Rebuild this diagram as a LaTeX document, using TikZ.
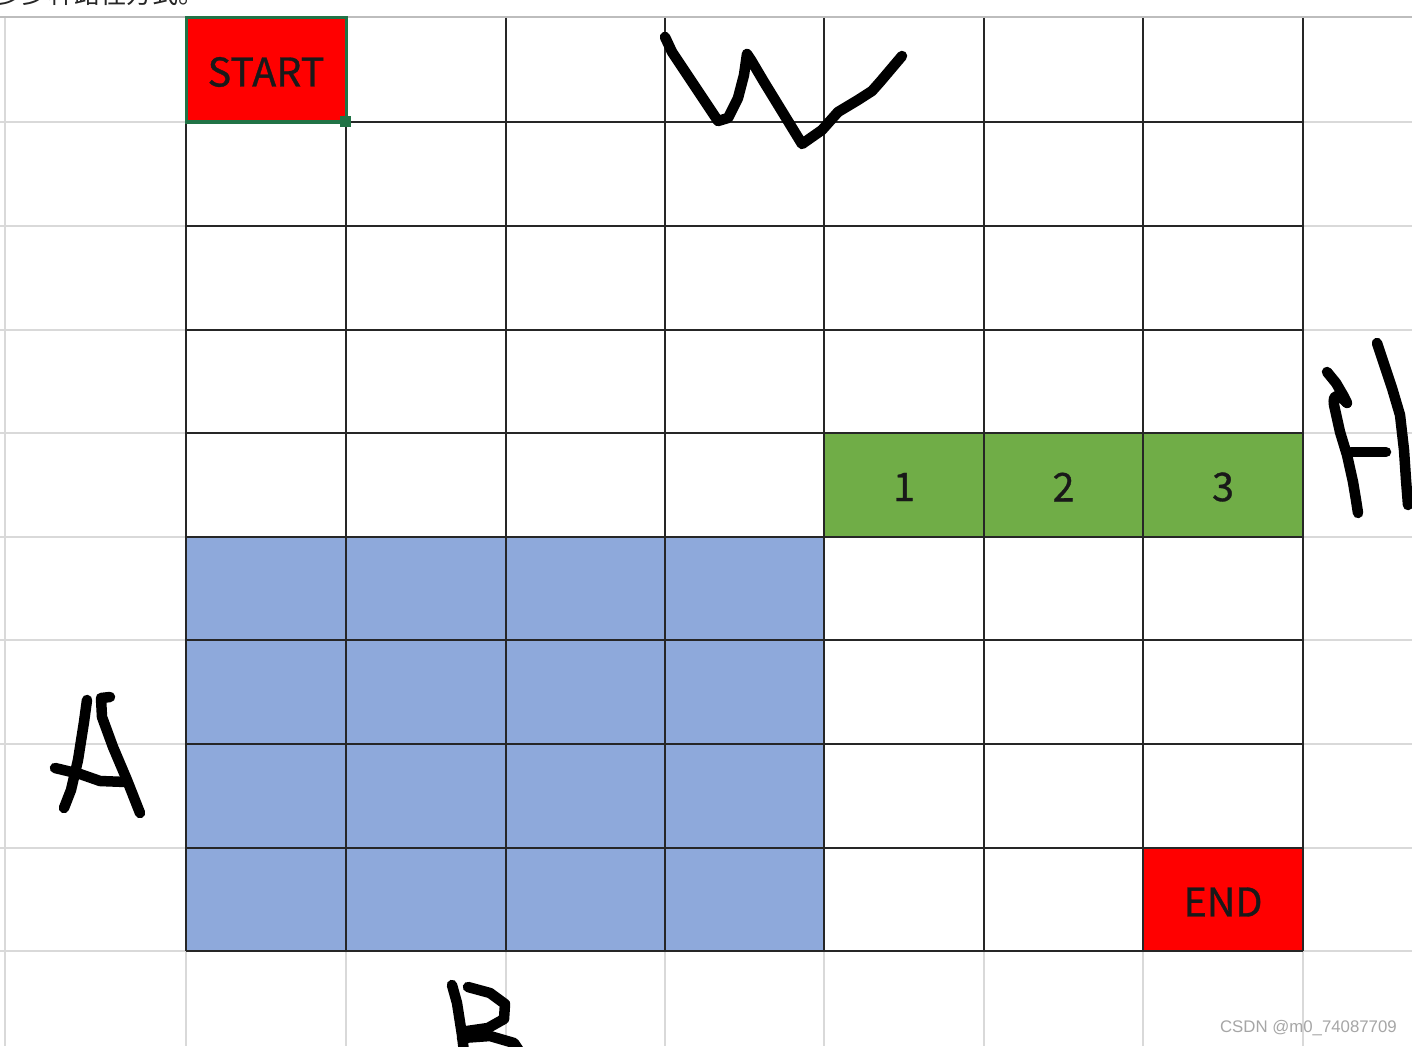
\documentclass[tikz,border=0pt]{standalone}
\usepackage{fontspec}
\setmainfont{Carlito}
\newfontfamily\cjkfont{Noto Sans CJK SC}
\newfontfamily\cellfont[FakeBold=0.8]{Noto Sans CJK SC}
\newfontfamily\wmfont{Liberation Sans}
\definecolor{cellred}{HTML}{FF0000}
\definecolor{cellblue}{HTML}{8EA9DB}
\definecolor{cellgreen}{HTML}{70AD47}
\definecolor{selgreen}{HTML}{217346}
\definecolor{faint}{HTML}{D9D9D9}
\definecolor{header}{HTML}{BDBDBD}
\tikzset{
  cell/.style={minimum width=159pt, minimum height=103.5pt, inner sep=0pt, draw=none},
  gridline/.style={line width=1.3pt, black!85},
  faintline/.style={line width=1.2pt, faint},
  ink/.style={line width=10.5pt, line cap=round, line join=round, black},
  celltext/.style={font=\cellfont\fontsize{39.5}{39.5}\selectfont, text=black!90},
}
\begin{document}
\begin{tikzpicture}[x=1pt,y=-1pt]
\useasboundingbox (0,0) rectangle (1412,1046);
\clip (0,0) rectangle (1412,1046);
\fill[white] (0,0) rectangle (1412,1046);

% cut-off caption at the very top
\node[anchor=base west, inner sep=0pt, font=\cjkfont\fontsize{26}{26}\selectfont, text=black!85] (caption) at (-4,3.5) {多少种路径方式。};

% faint spreadsheet lines outside the block
\draw[faintline] (5,18) -- (5,1046);
\foreach \x in {186,346,506,665,824,984,1143,1303} \draw[faintline] (\x,951) -- (\x,1046);
\foreach \y in {122,226,330,433,537,640,744,848,951} {
  \draw[faintline] (0,\y) -- (186,\y);
  \draw[faintline] (1303,\y) -- (1412,\y);
}
\draw[line width=2.5pt, header] (0,17) -- (1412,17);

% coloured cells
\node[cell, fill=cellred] (start) at (266,70) {};
\node[celltext] (starttext) at (266,72) {START};
\foreach \c/\x/\t in {1/904/1, 2/1063.5/2, 3/1223/3} {
  \node[cell, fill=cellgreen] (g\c) at (\x,485) {};
  \node[celltext] (gt\c) at (\x,487) {\t};
}
\fill[cellblue] (186,537) rectangle (824,951);
\node[cell, fill=cellred] (end) at (1223,899.5) {};
\node[celltext] (endtext) at (1223,902) {END};

% black grid
\foreach \x in {186,346,506,665,824,984,1143,1303} \draw[gridline] (\x,18) -- (\x,951);
\foreach \y in {122,226,330,433,537,640,744,848,951} \draw[gridline] (186,\y) -- (1303,\y);

% selection frame round START
\draw[line width=3pt, selgreen] (186,18) rectangle (346,122);
\fill[selgreen] (340,116) rectangle (351,127);
\fill[white] (338,124.5) rectangle (340,127);

% handwritten W
\draw[ink] (665,37) -- (672,52) -- (718,121) -- (728,118) -- (738,98) -- (744,75) -- (747,54) -- (751,60) -- (764,82) -- (802,144) -- (822,130) -- (838,112) -- (858,100) -- (872,91) -- (880,82) -- (902,56);

% handwritten H
\draw[ink] (1327,372) -- (1336,383) -- (1343,395) -- (1347,403);
\draw[ink] (1347,403) .. controls (1340,395) and (1332,392) .. (1334,405) -- (1340,432) -- (1347,455) -- (1353,482) -- (1356,500) -- (1358,513);
\draw[ink] (1351,452) -- (1386,452);
\draw[ink] (1377,343) -- (1382,358) -- (1392,388) -- (1400,415) -- (1404,450) -- (1406,480) -- (1408,505);

% handwritten A
\draw[ink] (87,700) -- (84,722) -- (78,760) -- (71,790) -- (64,808);
\draw[ink] (110,697) -- (101,698) -- (102,717) -- (113,747) -- (127,780) -- (140,813);
\draw[ink] (55,768) -- (80,774) -- (100,781) -- (126,782);

% handwritten B (cut off at the bottom)
\draw[ink] (452,985) -- (457,1003) -- (462,1035) -- (464,1052);
\draw[ink] (468,987) -- (490,993) -- (505,1004) -- (504,1019) -- (488,1028) -- (467,1031);
\draw[ink] (462,1038) -- (490,1036) -- (514,1043) -- (520,1052);

% watermark
\node[anchor=east, inner sep=0pt, font=\wmfont\fontsize{16.8}{16.8}\selectfont, text=black!35] (wm) at (1397,1028) {CSDN @m0\_74087709};
\end{tikzpicture}
\end{document}
